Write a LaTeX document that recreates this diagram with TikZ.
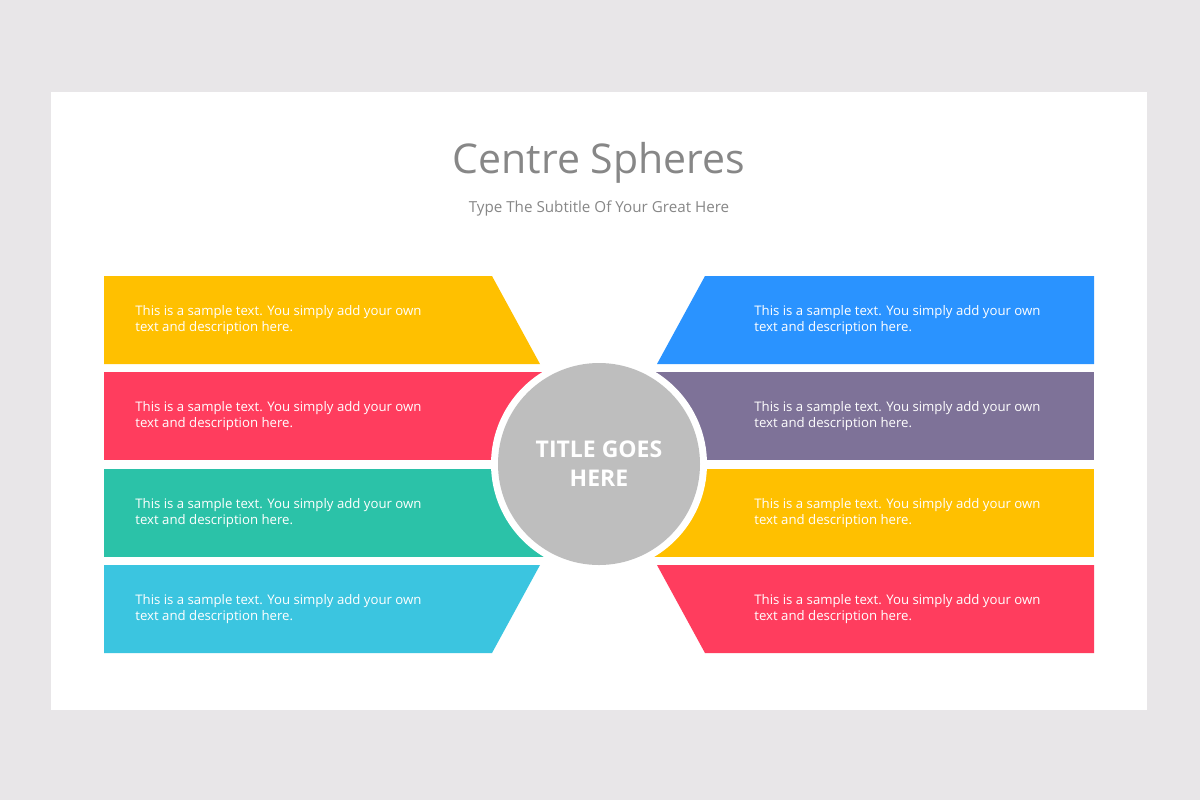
\documentclass[tikz,border=0pt]{standalone}
\usepackage{fontspec}
\setmainfont{Open Sans}
\definecolor{bgc}{HTML}{E8E6E8}
\definecolor{cy}{HTML}{FFC000}
\definecolor{cr}{HTML}{FF3D5E}
\definecolor{ct}{HTML}{2BC2A8}
\definecolor{cc}{HTML}{3BC5E0}
\definecolor{cb}{HTML}{2A93FF}
\definecolor{cp}{HTML}{7E7298}
\definecolor{cg}{HTML}{BEBEBE}
\definecolor{tg}{HTML}{878787}
\begin{document}
\begin{tikzpicture}[x=0.5pt,y=-0.5pt,
  txt/.style={anchor=west,align=left,text=white,font=\fontsize{6.6}{8.4}\selectfont,inner sep=0}]
\useasboundingbox (0,0) rectangle (1200,800);
\fill[bgc] (0,0) rectangle (1200,800);
\fill[white] (51,92) rectangle (1147,710);
\node[text=tg,font=\fontsize{20.5}{24}\selectfont] (title) at (599,163) {Centre Spheres};
\node[text=tg,font=\fontsize{7.6}{9}\selectfont] (sub) at (599,209) {Type The Subtitle Of Your Great Here};
% left
\fill[cy] (104,276) -- (492,276) -- (540,364) -- (104,364) -- cycle;
\fill[cr] (104,372) rectangle (599,460);
\fill[ct] (104,469) rectangle (599,557);
\fill[cc] (104,565) -- (540,565) -- (492,653) -- (104,653) -- cycle;
% right
\fill[cb] (705,276) -- (1094,276) -- (1094,364) -- (657,364) -- cycle;
\fill[cp] (599,372) rectangle (1094,460);
\fill[cy] (599,469) rectangle (1094,557);
\fill[cr] (657,565) -- (1094,565) -- (1094,653) -- (705,653) -- cycle;
\fill[white] (599,464) circle (108);
\node[circle,fill=cg,minimum size=101pt,inner sep=0,align=center,text=white,font=\bfseries\fontsize{11.5}{14.5}\selectfont] (ctr) at (599,464) {TITLE GOES\\HERE};
\foreach \y/\n in {320/a,416/b,513/c,609/d}{
  \node[txt] (l\n) at (135,\y) {This is a sample text. You simply add your own\\text and description here.};
  \node[txt] (r\n) at (754,\y) {This is a sample text. You simply add your own\\text and description here.};
}
\end{tikzpicture}
\end{document}
